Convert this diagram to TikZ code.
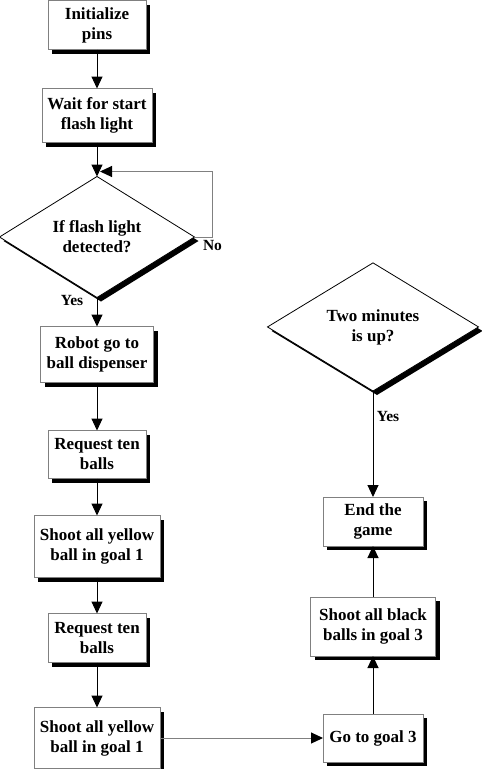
\documentclass[tikz,border=0pt]{standalone}
\usepackage{fontspec}
\setmainfont{Liberation Serif}
\usetikzlibrary{shapes.geometric, arrows.meta, positioning, shadows}
\tikzset{
  stepbox/.style={rectangle, draw=gray, line width=1pt, fill=white, outer sep=0pt,
                  align=center, minimum width=98pt, minimum height=48pt,
                  inner xsep=5pt, font=\fontsize{17}{20}\bfseries\selectfont,
                  drop shadow={shadow xshift=4pt, shadow yshift=-4pt, fill=black, opacity=1}},
  decision/.style={diamond, draw=black, line width=0.8pt, fill=white, outer sep=0pt,
                   align=center, inner sep=0pt, font=\fontsize{17}{20}\bfseries\selectfont,
                   drop shadow={shadow xshift=4pt, shadow yshift=-4pt, fill=black, opacity=1}},
  flow/.style={-{Triangle[length=12pt, width=11pt, color=black]}, line width=1pt},
  backflow/.style={flow, draw=gray},
  answer/.style={font=\fontsize{15.5}{18}\bfseries\selectfont},
}
\begin{document}
\begin{tikzpicture}[x=1pt, y=1pt]
  \useasboundingbox (0,0) rectangle (482,-769);

  % Main column (left)
  \node[stepbox, minimum height=49pt] (init) at (97,-25) {Initialize\\pins};
  \node[stepbox, minimum width=110pt, minimum height=54pt, below=39pt of init] (wait)
    {Wait for start\\flash light};
  \node[decision, minimum width=195pt, minimum height=116pt, below=34pt of wait] (detect)
    {If flash light\\detected?};
  \node[stepbox, minimum width=113pt, minimum height=56pt, below=29pt of detect] (robot)
    {Robot go to\\ball dispenser};
  \node[stepbox, below=48pt of robot] (req1) {Request ten\\balls};
  \node[stepbox, minimum width=126pt, minimum height=62pt, below=37pt of req1] (shoot1)
    {Shoot all yellow\\ball in goal 1};
  \node[stepbox, minimum height=49pt, below=36pt of shoot1] (req2) {Request ten\\balls};
  \node[stepbox, minimum width=126pt, minimum height=61pt, below=45pt of req2] (shoot2)
    {Shoot all yellow\\ball in goal 1};

  % Right column
  \node[stepbox, minimum width=100pt, right=163pt of shoot2] (goal) {Go to goal 3};
  \node[stepbox, minimum width=125pt, minimum height=59pt, above=58pt of goal] (black)
    {Shoot all black\\balls in goal 3};
  \node[stepbox, minimum width=100pt, minimum height=49pt, above=51pt of black] (endgame)
    {End the\\game};
  \node[decision, minimum width=211pt, minimum height=105pt, above=106pt of endgame] (timeup)
    {Two minutes\\is up?};

  % Arrows: left column
  \coordinate (join) at ([shift={(3pt,5pt)}]detect.north);
  \draw[flow] (init) -- (wait);
  \draw[flow] (wait) -- (detect);
  \draw[backflow] (detect.east) -- node[pos=1, below, answer]{No} ++(18,0) |- (join);
  \draw[flow] (detect) -- node[pos=0.1, left=10pt, answer]{Yes} (robot);
  \draw[flow] (robot) -- (req1);
  \draw[flow] (req1) -- (shoot1);
  \draw[flow] (shoot1) -- (req2);
  \draw[flow] (req2) -- (shoot2);

  % Arrows: across and up
  \draw[backflow] (shoot2) -- (goal);
  \draw[flow] (goal) -- (black);
  \draw[flow] (black) -- (endgame);
  \draw[flow] (timeup) -- node[pos=0.24, right, answer]{Yes} (endgame);

\end{tikzpicture}
\end{document}
